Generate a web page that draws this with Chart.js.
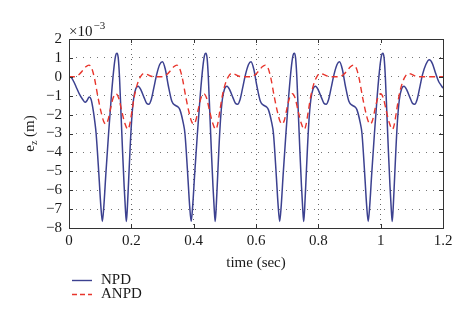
<!DOCTYPE html>
<html>
<head>
<meta charset="utf-8">
<script src="https://cdn.jsdelivr.net/npm/chart.js@4.4.1/dist/chart.umd.min.js"></script>
<style>
  html, body { margin: 0; padding: 0; background: #ffffff; }
  canvas { display: block; }
</style>
</head>
<body>
<canvas id="c" width="474" height="321"></canvas>
<script>
// ---- data (values in units of 1e-3 m) ----
const seriesNames = ['NPD', 'ANPD'];
const xTickValues = [0, 0.2, 0.4, 0.6, 0.8, 1, 1.2];
const yTickValues = [2, 1, 0, -1, -2, -3, -4, -5, -6, -7, -8];

const npdTime = [
  0.000, 0.008, 0.015, 0.022, 0.033, 0.044, 0.052, 0.058, 0.065, 0.071, 0.078, 0.083, 0.087,
  0.096, 0.102, 0.107, 0.112, 0.118, 0.127, 0.136, 0.145, 0.150, 0.154, 0.158, 0.162, 0.167,
  0.172, 0.177, 0.181, 0.184, 0.187, 0.191, 0.196, 0.201, 0.207, 0.214, 0.222, 0.231, 0.241,
  0.249, 0.256, 0.264, 0.272, 0.281, 0.291, 0.300,
  0.309, 0.319, 0.330, 0.340, 0.350, 0.356, 0.366, 0.372, 0.381, 0.387, 0.392, 0.397, 0.403,
  0.412, 0.421, 0.430, 0.435, 0.439, 0.443, 0.447, 0.452, 0.457, 0.462, 0.466, 0.469, 0.472,
  0.476, 0.481, 0.486, 0.492, 0.499, 0.507, 0.516, 0.526, 0.534, 0.541, 0.549, 0.557, 0.566,
  0.576, 0.584,
  0.593, 0.603, 0.614, 0.624, 0.634, 0.640, 0.650, 0.656, 0.665, 0.671, 0.676, 0.681, 0.687,
  0.696, 0.705, 0.714, 0.719, 0.723, 0.727, 0.731, 0.736, 0.741, 0.746, 0.750, 0.753, 0.756,
  0.760, 0.765, 0.770, 0.776, 0.783, 0.791, 0.800, 0.810, 0.818, 0.825, 0.833, 0.841, 0.850,
  0.860, 0.868,
  0.877, 0.887, 0.898, 0.908, 0.918, 0.924, 0.934, 0.940, 0.949, 0.955, 0.960, 0.965, 0.971,
  0.980, 0.989, 0.998, 1.003, 1.007, 1.011, 1.015, 1.020, 1.025, 1.030, 1.034, 1.037, 1.040,
  1.044, 1.049, 1.054, 1.060, 1.067, 1.075, 1.084, 1.094, 1.102, 1.109, 1.117, 1.125, 1.134,
  1.145, 1.156, 1.166, 1.176, 1.186, 1.194, 1.200
];
const npdValues = [
  0.00, -0.05, -0.25, -0.50, -0.90, -1.20, -1.35, -1.25, -1.07, -1.20, -1.80, -2.40, -3.00,
  -5.20, -6.80, -7.65, -6.80, -5.20, -3.00, -1.00, 0.60, 1.15, 1.25, 1.00, 0.00, -2.00,
  -4.00, -5.80, -7.00, -7.65, -7.00, -5.60, -3.80, -2.30, -1.20, -0.65, -0.50, -0.70, -1.10,
  -1.40, -1.45, -1.20, -0.60, 0.10, 0.65, 0.80,
  0.40, -0.50, -1.30, -1.50, -1.60, -1.75, -2.40, -3.00, -5.20, -6.80, -7.65, -6.80, -5.20,
  -3.00, -1.00, 0.60, 1.15, 1.25, 1.00, 0.00, -2.00, -4.00, -5.80, -7.00, -7.65, -7.00,
  -5.60, -3.80, -2.30, -1.20, -0.65, -0.50, -0.70, -1.10, -1.40, -1.45, -1.20, -0.60, 0.10,
  0.65, 0.80,
  0.40, -0.50, -1.30, -1.50, -1.60, -1.75, -2.40, -3.00, -5.20, -6.80, -7.65, -6.80, -5.20,
  -3.00, -1.00, 0.60, 1.15, 1.25, 1.00, 0.00, -2.00, -4.00, -5.80, -7.00, -7.65, -7.00,
  -5.60, -3.80, -2.30, -1.20, -0.65, -0.50, -0.70, -1.10, -1.40, -1.45, -1.20, -0.60, 0.10,
  0.65, 0.80,
  0.40, -0.50, -1.30, -1.50, -1.60, -1.75, -2.40, -3.00, -5.20, -6.80, -7.65, -6.80, -5.20,
  -3.00, -1.00, 0.60, 1.15, 1.25, 1.00, 0.00, -2.00, -4.00, -5.80, -7.00, -7.65, -7.00,
  -5.60, -3.80, -2.30, -1.20, -0.65, -0.50, -0.70, -1.10, -1.40, -1.45, -1.20, -0.60, 0.10,
  0.65, 0.90, 0.70, 0.20, -0.25, -0.45, -0.60
];

const anpdTime = [
  0.000, 0.014, 0.024, 0.034, 0.044, 0.054, 0.064, 0.073, 0.082, 0.092, 0.102, 0.111, 0.118,
  0.125, 0.133, 0.142, 0.151, 0.160, 0.169, 0.179, 0.189, 0.195, 0.202, 0.210, 0.219, 0.229,
  0.240, 0.252, 0.264, 0.279, 0.296,
  0.306, 0.316, 0.326, 0.336, 0.346, 0.355, 0.364, 0.374, 0.384, 0.393, 0.400, 0.407, 0.415,
  0.424, 0.433, 0.442, 0.451, 0.461, 0.471, 0.477, 0.484, 0.492, 0.501, 0.511, 0.522, 0.534,
  0.546, 0.561, 0.580,
  0.590, 0.600, 0.610, 0.620, 0.630, 0.639, 0.648, 0.658, 0.668, 0.677, 0.684, 0.691, 0.699,
  0.708, 0.717, 0.726, 0.735, 0.745, 0.755, 0.761, 0.768, 0.776, 0.785, 0.795, 0.806, 0.818,
  0.830, 0.845, 0.863,
  0.873, 0.883, 0.893, 0.903, 0.913, 0.922, 0.931, 0.941, 0.951, 0.960, 0.967, 0.974, 0.982,
  0.991, 1.000, 1.009, 1.018, 1.028, 1.038, 1.044, 1.051, 1.059, 1.068, 1.078, 1.089, 1.101,
  1.113, 1.128, 1.200
];
const anpdValues = [
  0.00, 0.00, 0.04, 0.15, 0.33, 0.53, 0.62, 0.45, -0.10, -1.00, -1.80, -2.35, -2.50,
  -2.30, -1.70, -1.10, -0.90, -1.15, -1.80, -2.45, -2.78, -2.50, -1.80, -1.00, -0.40, 0.00,
  0.18, 0.12, 0.03, 0.00, 0.00,
  0.04, 0.15, 0.33, 0.53, 0.62, 0.45, -0.10, -1.00, -1.80, -2.35, -2.50, -2.30, -1.70,
  -1.10, -0.90, -1.15, -1.80, -2.45, -2.78, -2.50, -1.80, -1.00, -0.40, 0.00, 0.18, 0.12,
  0.03, 0.00, 0.00,
  0.04, 0.15, 0.33, 0.53, 0.62, 0.45, -0.10, -1.00, -1.80, -2.35, -2.50, -2.30, -1.70,
  -1.10, -0.90, -1.15, -1.80, -2.45, -2.78, -2.50, -1.80, -1.00, -0.40, 0.00, 0.18, 0.12,
  0.03, 0.00, 0.00,
  0.04, 0.15, 0.33, 0.53, 0.62, 0.45, -0.10, -1.00, -1.80, -2.35, -2.50, -2.30, -1.70,
  -1.10, -0.90, -1.15, -1.80, -2.45, -2.78, -2.50, -1.80, -1.00, -0.40, 0.00, 0.18, 0.12,
  0.03, 0.00, 0.00
];

// ---- styling ----
const FONT = '"Liberation Serif", "DejaVu Serif", serif';
const TEXT = '#1a1a1a';
const NPD_COLOR = '#3c4190';
const ANPD_COLOR = '#e8352c';

function pairs(xs, ys) { return xs.map((x, i) => ({ x: x, y: ys[i] })); }
function fmtY(v) { return v < 0 ? '\u2212' + Math.abs(v) : String(v); }
function fmtX(v) { return String(Math.round(v * 10) / 10); }

const decorations = {
  id: 'decorations',
  afterDraw(chart) {
    const ctx = chart.ctx;
    const a = chart.chartArea;
    const xs = chart.scales.x, ys = chart.scales.y;
    ctx.save();
    // box
    ctx.strokeStyle = '#333333';
    ctx.lineWidth = 1;
    ctx.setLineDash([]);
    ctx.strokeRect(Math.round(a.left) + 0.5, Math.round(a.top) + 0.5,
                   Math.round(a.right - a.left), Math.round(a.bottom - a.top));
    // inward ticks
    const tl = 4;
    ctx.beginPath();
    xs.ticks.forEach(t => {
      const p = Math.round(xs.getPixelForValue(t.value)) + 0.5;
      ctx.moveTo(p, a.bottom); ctx.lineTo(p, a.bottom - tl);
      ctx.moveTo(p, a.top); ctx.lineTo(p, a.top + tl);
    });
    ys.ticks.forEach(t => {
      const p = Math.round(ys.getPixelForValue(t.value)) + 0.5;
      ctx.moveTo(a.left, p); ctx.lineTo(a.left + tl, p);
      ctx.moveTo(a.right, p); ctx.lineTo(a.right - tl, p);
    });
    ctx.stroke();

    ctx.fillStyle = TEXT;
    // exponent label
    ctx.textBaseline = 'alphabetic';
    ctx.textAlign = 'left';
    ctx.font = '15px ' + FONT;
    ctx.fillText('\u00d710', a.left, a.top - 3);
    const w = ctx.measureText('\u00d710').width;
    ctx.font = '11px ' + FONT;
    ctx.fillText('\u22123', a.left + w + 1, a.top - 10);

    // x axis title
    ctx.font = '15px ' + FONT;
    ctx.textAlign = 'center';
    ctx.textBaseline = 'middle';
    ctx.fillText('time (sec)', (a.left + a.right) / 2, 263);

    // y axis title: e_z (m)
    ctx.save();
    ctx.translate(30, (a.top + a.bottom) / 2);
    ctx.rotate(-Math.PI / 2);
    ctx.textAlign = 'left';
    ctx.textBaseline = 'middle';
    ctx.font = '15px ' + FONT;
    const p1 = 'e', p3 = ' (m)';
    const w1 = ctx.measureText(p1).width;
    const w3 = ctx.measureText(p3).width;
    ctx.font = '10px ' + FONT;
    const w2 = ctx.measureText('z').width;
    const total = w1 + w2 + w3;
    let x0 = -total / 2;
    ctx.font = '15px ' + FONT;
    ctx.fillText(p1, x0, 0);
    ctx.font = '10px ' + FONT;
    ctx.fillText('z', x0 + w1, 4);
    ctx.font = '15px ' + FONT;
    ctx.fillText(p3, x0 + w1 + w2, 0);
    ctx.restore();

    // legend
    const items = [
      { name: seriesNames[0], color: NPD_COLOR, dash: [], y: 280 },
      { name: seriesNames[1], color: ANPD_COLOR, dash: [5, 3], y: 294 }
    ];
    items.forEach(it => {
      ctx.strokeStyle = it.color;
      ctx.lineWidth = 1.4;
      ctx.setLineDash(it.dash);
      ctx.beginPath();
      ctx.moveTo(72, it.y + 0.5);
      ctx.lineTo(92, it.y + 0.5);
      ctx.stroke();
      ctx.setLineDash([]);
      ctx.fillStyle = TEXT;
      ctx.font = '15px ' + FONT;
      ctx.textAlign = 'left';
      ctx.textBaseline = 'middle';
      ctx.fillText(it.name, 101, it.y);
    });
    ctx.restore();
  }
};

new Chart(document.getElementById('c'), {
  type: 'line',
  data: {
    datasets: [
      {
        label: seriesNames[0],
        data: pairs(npdTime, npdValues),
        borderColor: NPD_COLOR,
        borderWidth: 1.5,
        pointRadius: 0,
        cubicInterpolationMode: 'monotone',
        fill: false,
        order: 1
      },
      {
        label: seriesNames[1],
        data: pairs(anpdTime, anpdValues),
        borderColor: ANPD_COLOR,
        borderWidth: 1.4,
        borderDash: [6, 4],
        pointRadius: 0,
        cubicInterpolationMode: 'monotone',
        fill: false,
        order: 0
      }
    ]
  },
  options: {
    responsive: false,
    animation: false,
    layout: { padding: { left: 0, right: 31, top: 39, bottom: 0 } },
    plugins: { legend: { display: false }, tooltip: { enabled: false } },
    scales: {
      x: {
        type: 'linear',
        min: 0, max: 1.2,
        afterBuildTicks(s) { s.ticks = xTickValues.map(v => ({ value: v })); },
        afterFit(s) { s.height = 93; },
        ticks: { callback: fmtX, color: TEXT, font: { family: FONT, size: 15 }, padding: 4, maxRotation: 0, autoSkip: false },
        grid: { color: '#666666', lineWidth: 1, drawTicks: false },
        border: { display: false, dash: [1, 4] }
      },
      y: {
        type: 'linear',
        min: -8, max: 2,
        afterBuildTicks(s) { s.ticks = yTickValues.map(v => ({ value: v })); },
        afterFit(s) { s.width = 69; },
        ticks: { callback: fmtY, color: TEXT, font: { family: FONT, size: 15 }, padding: 7, autoSkip: false },
        grid: { color: '#777777', lineWidth: 1, drawTicks: false },
        border: { display: false, dash: [1, 6] }
      }
    }
  },
  plugins: [decorations]
});
</script>
</body>
</html>
